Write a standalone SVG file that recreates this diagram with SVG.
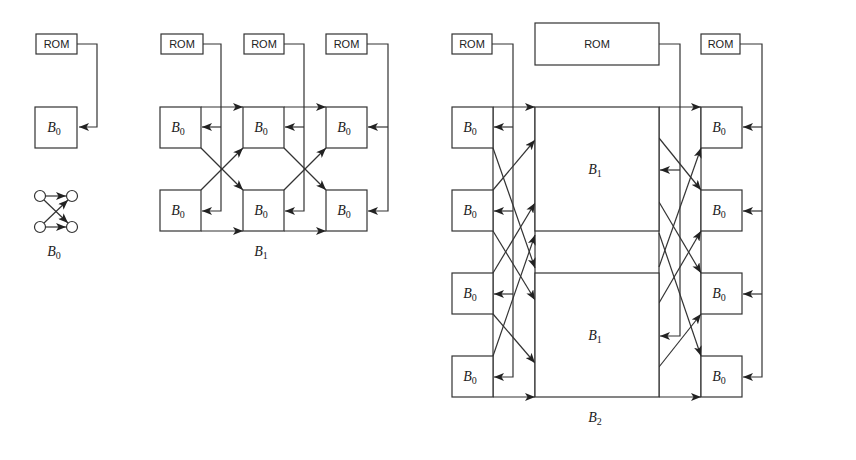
<svg xmlns="http://www.w3.org/2000/svg" width="856" height="460" viewBox="0 0 856 460">
<defs>
<marker id="a" markerUnits="userSpaceOnUse" markerWidth="10" markerHeight="8" refX="10" refY="4" orient="auto"><path d="M0,0 L10,4 L0,8 L2.5,4 z" fill="#222"/></marker>
<style>
.b{fill:#fff;stroke:#333;stroke-width:1.2}
.c{fill:none;stroke:#333;stroke-width:1.2}
.r{font-family:"Liberation Sans",Arial,sans-serif;font-size:11px;fill:#222;text-anchor:middle}
.l{font-family:"Liberation Serif","Times New Roman",serif;font-size:14px;font-style:italic;fill:#222;text-anchor:middle}
.s{font-style:normal;font-size:10px}
</style>
</defs>
<rect width="856" height="460" fill="#fff"/>
<g id="connectors" class="c">
<!-- left -->
<path d="M77,44 H97 V127 H79" marker-end="url(#a)"/>
<path d="M45.5,196 H66" marker-end="url(#a)"/>
<path d="M45.5,227 H66" marker-end="url(#a)"/>
<path d="M44,200 L68,223" marker-end="url(#a)"/>
<path d="M44,223 L68,200" marker-end="url(#a)"/>
<!-- B1 -->
<path d="M203,44 H221 V211 H202" marker-end="url(#a)"/>
<path d="M221,127 H202" marker-end="url(#a)"/>
<path d="M284,44 H304 V211 H285" marker-end="url(#a)"/>
<path d="M304,127 H285" marker-end="url(#a)"/>
<path d="M367,44 H388 V211 H368" marker-end="url(#a)"/>
<path d="M388,127 H368" marker-end="url(#a)"/>
<path d="M201,107 H243" marker-end="url(#a)"/>
<path d="M284,107 H326" marker-end="url(#a)"/>
<path d="M201,231 H243" marker-end="url(#a)"/>
<path d="M284,231 H326" marker-end="url(#a)"/>
<path d="M201,148 L243,190" marker-end="url(#a)"/>
<path d="M201,190 L243,148" marker-end="url(#a)"/>
<path d="M284,148 L326,190" marker-end="url(#a)"/>
<path d="M284,190 L326,148" marker-end="url(#a)"/>
<!-- B2 left -->
<path d="M492,44 H513 V377 H494" marker-end="url(#a)"/>
<path d="M513,127 H494" marker-end="url(#a)"/>
<path d="M513,211 H494" marker-end="url(#a)"/>
<path d="M513,294 H494" marker-end="url(#a)"/>
<path d="M493,107 V397"/>
<path d="M535,107 V397"/>
<path d="M493,107 H535" marker-end="url(#a)"/>
<path d="M493,397 H535" marker-end="url(#a)"/>
<path d="M493,148 L535,268" marker-end="url(#a)"/>
<path d="M493,190 L535,140" marker-end="url(#a)"/>
<path d="M493,231 L535,300" marker-end="url(#a)"/>
<path d="M493,273 L535,203" marker-end="url(#a)"/>
<path d="M493,314 L535,363" marker-end="url(#a)"/>
<path d="M493,356 L535,235" marker-end="url(#a)"/>
<!-- big ROM -->
<path d="M659,44 H680 V336 H660" marker-end="url(#a)"/>
<path d="M680,170 H660" marker-end="url(#a)"/>
<!-- B2 right -->
<path d="M740,44 H762 V377 H743" marker-end="url(#a)"/>
<path d="M762,127 H743" marker-end="url(#a)"/>
<path d="M762,211 H743" marker-end="url(#a)"/>
<path d="M762,294 H743" marker-end="url(#a)"/>
<path d="M659,107 V397"/>
<path d="M701,107 V397"/>
<path d="M659,107 H701" marker-end="url(#a)"/>
<path d="M659,397 H701" marker-end="url(#a)"/>
<path d="M659,138 L701,190" marker-end="url(#a)"/>
<path d="M659,202 L701,273" marker-end="url(#a)"/>
<path d="M659,233 L701,356" marker-end="url(#a)"/>
<path d="M659,267 L701,148" marker-end="url(#a)"/>
<path d="M659,303 L701,231" marker-end="url(#a)"/>
<path d="M659,367 L701,314" marker-end="url(#a)"/>
</g>
<g id="rom0"><rect class="b" x="36" y="34" width="41" height="20"/><text class="r" x="56.5" y="48">ROM</text></g>
<g id="b0-left"><rect class="b" x="35" y="107" width="42" height="41"/><text class="l" x="54" y="132">B<tspan class="s" dy="3">0</tspan></text></g>
<g id="b0-graph" class="c">
<circle cx="40" cy="196" r="5.5"/><circle cx="72" cy="196" r="5.5"/><circle cx="40" cy="227" r="5.5"/><circle cx="72" cy="227" r="5.5"/>
</g>
<text class="l" x="54" y="256">B<tspan class="s" dy="3">0</tspan></text>
<g id="b1-nodes">
<rect class="b" x="161" y="34" width="42" height="20"/><text class="r" x="182" y="48">ROM</text>
<rect class="b" x="244" y="34" width="40" height="20"/><text class="r" x="264" y="48">ROM</text>
<rect class="b" x="326" y="34" width="41" height="20"/><text class="r" x="346.5" y="48">ROM</text>
<rect class="b" x="160" y="107" width="41" height="41"/><text class="l" x="178" y="132">B<tspan class="s" dy="3">0</tspan></text>
<rect class="b" x="243" y="107" width="41" height="41"/><text class="l" x="261" y="132">B<tspan class="s" dy="3">0</tspan></text>
<rect class="b" x="326" y="107" width="41" height="41"/><text class="l" x="344" y="132">B<tspan class="s" dy="3">0</tspan></text>
<rect class="b" x="160" y="190" width="41" height="41"/><text class="l" x="178" y="215">B<tspan class="s" dy="3">0</tspan></text>
<rect class="b" x="243" y="190" width="41" height="41"/><text class="l" x="261" y="215">B<tspan class="s" dy="3">0</tspan></text>
<rect class="b" x="326" y="190" width="41" height="41"/><text class="l" x="344" y="215">B<tspan class="s" dy="3">0</tspan></text>
</g>
<text class="l" x="261" y="256">B<tspan class="s" dy="3">1</tspan></text>
<g id="b2-nodes">
<rect class="b" x="452" y="34" width="40" height="20"/><text class="r" x="472" y="48">ROM</text>
<rect class="b" x="535" y="23" width="124" height="42"/><text class="r" x="597" y="48">ROM</text>
<rect class="b" x="701" y="34" width="39" height="20"/><text class="r" x="720.5" y="48">ROM</text>
<rect class="b" x="452" y="107" width="41" height="41"/><text class="l" x="470" y="132">B<tspan class="s" dy="3">0</tspan></text>
<rect class="b" x="452" y="190" width="41" height="41"/><text class="l" x="470" y="215">B<tspan class="s" dy="3">0</tspan></text>
<rect class="b" x="452" y="273" width="41" height="41"/><text class="l" x="470" y="298">B<tspan class="s" dy="3">0</tspan></text>
<rect class="b" x="452" y="356" width="41" height="41"/><text class="l" x="470" y="381">B<tspan class="s" dy="3">0</tspan></text>
<rect class="b" x="535" y="107" width="124" height="124" fill="none"/><text class="l" x="595" y="174">B<tspan class="s" dy="3">1</tspan></text>
<rect class="b" x="535" y="273" width="124" height="124" fill="none"/><text class="l" x="595" y="340">B<tspan class="s" dy="3">1</tspan></text>
<rect class="b" x="701" y="107" width="41" height="41"/><text class="l" x="719" y="132">B<tspan class="s" dy="3">0</tspan></text>
<rect class="b" x="701" y="190" width="41" height="41"/><text class="l" x="719" y="215">B<tspan class="s" dy="3">0</tspan></text>
<rect class="b" x="701" y="273" width="41" height="41"/><text class="l" x="719" y="298">B<tspan class="s" dy="3">0</tspan></text>
<rect class="b" x="701" y="356" width="41" height="41"/><text class="l" x="719" y="381">B<tspan class="s" dy="3">0</tspan></text>
</g>
<text class="l" x="595" y="422">B<tspan class="s" dy="3">2</tspan></text>
</svg>
